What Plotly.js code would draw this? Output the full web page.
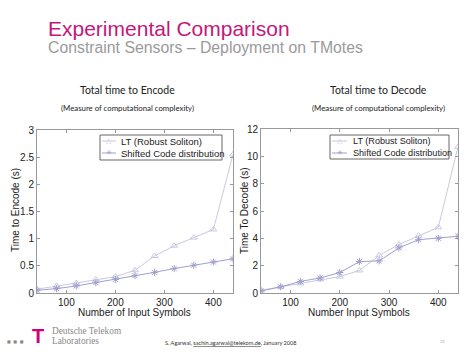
<!DOCTYPE html>
<html><head><meta charset="utf-8">
<script src="https://cdn.plot.ly/plotly-3.0.1.min.js"></script>
<style>html,body{margin:0;padding:0;background:#fff}#c{width:474px;height:355px}</style>
</head><body><div id="c"></div>
<script>
const symbols = [40, 80, 120, 160, 200, 240, 280, 320, 360, 400, 440];
const encodeLT = [0.07, 0.13, 0.18, 0.25, 0.30, 0.42, 0.68, 0.87, 1.02, 1.17, 2.55];
const encodeShifted = [0.05, 0.08, 0.13, 0.19, 0.25, 0.32, 0.38, 0.45, 0.51, 0.57, 0.63];
const decodeLT = [0.2, 0.45, 0.7, 1.0, 1.2, 1.65, 2.75, 3.55, 4.2, 4.8, 10.7];
const decodeShifted = [0.15, 0.45, 0.85, 1.1, 1.5, 2.3, 2.35, 3.3, 3.9, 4.0, 4.15];
const seriesNames = ["LT (Robust Soliton)", "Shifted Code distribution"];
const xTicks = [100, 200, 300, 400];
const yTicksEnc = [0, 0.5, 1, 1.5, 2, 2.5, 3];
const yTicksDec = [0, 2, 4, 6, 8, 10, 12];

const W = 474, H = 355;
const px = v => v / W, py = v => 1 - v / H;
const ltColor = '#c9c9df', shColor = '#9f9fd0';

function tr(x, y, name, color, sym, xa, ya) {
  return {x, y, name, type: 'scatter', mode: 'lines+markers', xaxis: xa, yaxis: ya, showlegend: false,
    line: {color, width: 1}, marker: {symbol: sym, size: 6, color, line: {color, width: 1}}};
}
const data = [
  tr(symbols, encodeLT, seriesNames[0], ltColor, 'triangle-up-open', 'x', 'y'),
  tr(symbols, encodeShifted, seriesNames[1], shColor, 'asterisk-open', 'x', 'y'),
  tr(symbols, decodeLT, seriesNames[0], ltColor, 'triangle-up-open', 'x2', 'y2'),
  tr(symbols, decodeShifted, seriesNames[1], shColor, 'asterisk-open', 'x2', 'y2')
];
const tickFont = {family: 'Liberation Sans, Arial', size: 10, color: '#222'};
function ax(extra) {
  return Object.assign({showgrid: false, zeroline: false, showline: true, linecolor: '#999', linewidth: 1,
    mirror: 'allticks', ticks: 'inside', ticklen: 3, tickcolor: '#999', tickfont: tickFont, automargin: false}, extra);
}
const annFont = (s, c, f) => ({family: f || 'Liberation Sans, Arial', size: s, color: c || '#222'});
const ann = (x, y, text, font, xanchor, extra) => Object.assign({xref: 'paper', yref: 'paper', x: px(x), y: py(y), text, showarrow: false,
  font, xanchor: xanchor || 'center', yanchor: 'middle'}, extra || {});

// custom compact legends (box, line sample, marker glyph, label)
const shapes = [];
const legAnn = [];
function legend(x0, x1, y0, y1, lineX0, lineX1, textX, fs) {
  shapes.push({type: 'rect', xref: 'paper', yref: 'paper', x0: px(x0), x1: px(x1), y0: py(y1), y1: py(y0),
    line: {color: '#666', width: 1}, fillcolor: '#fff', layer: 'above'});
  const rows = [[y0 + 6, ltColor, '△'], [y0 + 18, shColor, '✳']];
  rows.forEach((r, i) => {
    shapes.push({type: 'line', xref: 'paper', yref: 'paper', x0: px(lineX0), x1: px(lineX1), y0: py(r[0]), y1: py(r[0]),
      line: {color: r[1], width: 1}, layer: 'above'});
    legAnn.push(ann((lineX0 + lineX1) / 2, r[0], r[2], annFont(7, r[1], 'DejaVu Sans')));
    legAnn.push(ann(textX, r[0], seriesNames[i], annFont(fs, '#222'), 'left'));
  });
}
legend(100, 222, 135, 160, 102, 116, 119, 9.5);
legend(330, 449, 135, 159, 332, 347, 351, 9.1);

const layout = {
  width: W, height: H, margin: {l: 0, r: 0, t: 0, b: 0}, paper_bgcolor: '#fff', plot_bgcolor: '#fff',
  xaxis: ax({domain: [px(37), px(233)], range: [40, 440], tickvals: xTicks, anchor: 'y'}),
  yaxis: ax({domain: [py(293), py(130)], range: [0, 3], tickvals: yTicksEnc, anchor: 'x'}),
  xaxis2: ax({domain: [px(261), px(458)], range: [40, 440], tickvals: xTicks, anchor: 'y2'}),
  yaxis2: ax({domain: [py(293), py(129)], range: [0, 12], tickvals: yTicksDec, anchor: 'x2'}),
  shapes: shapes,
  annotations: [
    ann(46, 28, 'Experimental Comparison', annFont(21, '#c4177a'), 'left'),
    ann(46, 47, 'Constraint Sensors – Deployment on TMotes', annFont(15.8, '#9a9a9a'), 'left'),
    ann(128, 90, 'Total time to Encode', annFont(10.5, '#222', 'Lato')),
    ann(128, 108, '(Measure of computational complexity)', annFont(7.8, '#222', 'Lato')),
    ann(378, 90, 'Total time to Decode', annFont(10.5, '#222', 'Lato')),
    ann(378, 108, '(Measure of computational complexity)', annFont(7.8, '#222', 'Lato')),
    ann(15, 210, 'Time to Encode (s)', annFont(10), 'center', {textangle: -90}),
    ann(134, 312, 'Number of Input Symbols', annFont(10)),
    ann(244, 211, 'Time To Decode (s)', annFont(10), 'center', {textangle: -90}),
    ann(359, 312, 'Number Input Symbols', annFont(10)),
    ann(15, 341, '■  ■  ■', annFont(4, '#888', 'DejaVu Sans')),
    ann(38, 336, '<b>T</b>', annFont(20, '#d3007c', 'Liberation Sans')),
    ann(50, 331, 'Deutsche Telekom', annFont(9.3, '#8a8a8a', 'Liberation Serif'), 'left'),
    ann(50, 341, 'Laboratories', annFont(9.3, '#8a8a8a', 'Liberation Serif'), 'left'),
    ann(163, 342, 'S. Agarwal, <span style="text-decoration:underline">sachin.agarwal@telekom.de</span>, January 2008', annFont(5.6, '#333', 'Lato'), 'left'),
    ann(443, 341, '31', annFont(4.5, '#aaa', 'Lato'))
  ].concat(legAnn)
};
Plotly.newPlot('c', data, layout, {displayModeBar: false, staticPlot: true});
</script></body></html>
